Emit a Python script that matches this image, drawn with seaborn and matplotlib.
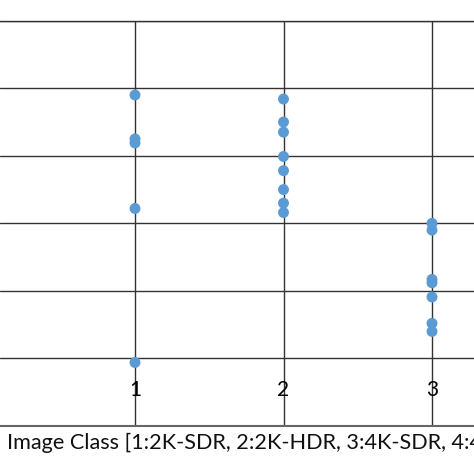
import pandas as pd
import numpy as np
import matplotlib.pyplot as plt
import seaborn as sns

# values (y in grid units, 0 = bottom line)
class_1 = [4.90, 4.25, 4.19, 3.22, 0.94]
class_2 = [4.84, 4.50, 4.35, 3.99, 3.78, 3.50, 3.30, 3.16]
class_3 = [3.00, 2.90, 2.17, 2.12, 1.91, 1.52, 1.40]
x_ticks = [1, 2, 3]
x_label = 'Image Class [1:2K-SDR, 2:2K-HDR, 3:4K-SDR, 4:4K-HDR]'

df = pd.DataFrame({
    'cls': [1] * len(class_1) + [2] * len(class_2) + [3] * len(class_3),
    'val': class_1 + class_2 + class_3,
})

sns.set_style('white')
plt.rcParams['font.family'] = ['Lato', 'DejaVu Sans']

fig = plt.figure(figsize=(4.74, 4.74), dpi=100)
ax = fig.add_axes([0, 1 - 426 / 474, 1, (426 - 20.7) / 474])

sns.scatterplot(data=df, x='cls', y='val', ax=ax, color='#5B9BD5',
                s=62, edgecolor='none', zorder=3)

ax.set_xticks(x_ticks)
ax.set_xticklabels([str(t) for t in x_ticks], fontsize=15, color='#000000')
ax.set_yticks(range(0, 7))
ax.set_yticklabels([])
# limits set after the ticks so they are not widened again
ax.set_xlim(1 - 135 / 148.5, 1 + 339 / 148.5)
ax.set_ylim(0, 6)
ax.tick_params(axis='x', length=0, pad=-33)
ax.tick_params(axis='y', length=0)
ax.grid(True, color='#333333', linewidth=1.0)
ax.set_axisbelow(True)

for side in ['left', 'right']:
    ax.spines[side].set_visible(False)
ax.spines['top'].set_color('#333333')
ax.spines['top'].set_linewidth(1.0)
ax.spines['bottom'].set_color('#666666')
ax.spines['bottom'].set_linewidth(1.5)
ax.set_xlabel('')
ax.set_ylabel('')

fig.text(7 / 474, 1 - 443 / 474, x_label, fontsize=15.6, ha='left', va='center',
         color='#111111')

fig.savefig('out.png', dpi=100)
